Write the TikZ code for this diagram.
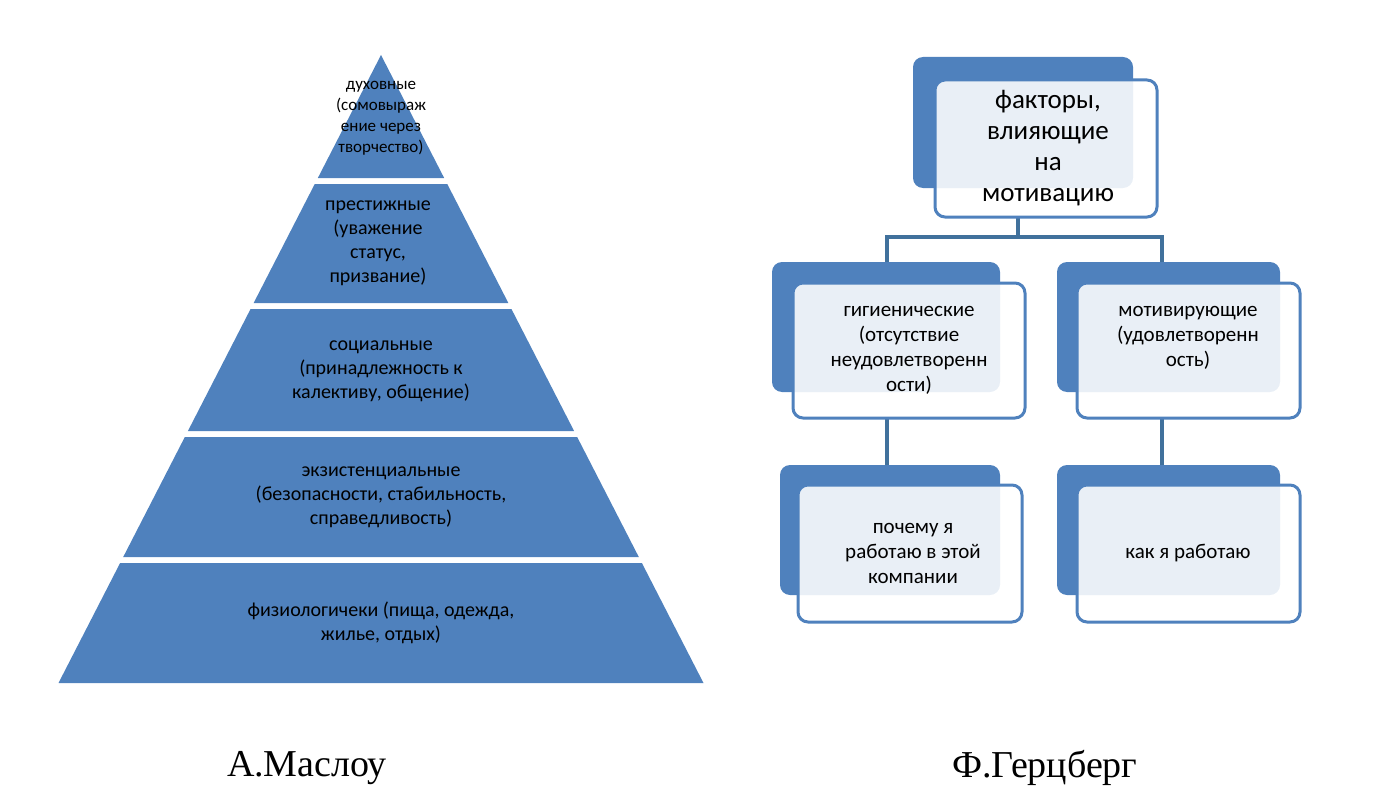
\documentclass[tikz,border=0pt]{standalone}
\usepackage{fontspec}
\setmainfont{Carlito}
\newfontfamily\timesf{Liberation Serif}
\definecolor{pyr}{HTML}{4F81BD}
\definecolor{edge}{HTML}{41719C}
\tikzset{back/.style={fill=pyr,rounded corners=10pt},
front/.style={draw=pyr,line width=3pt,fill=white,fill opacity=0.88,rounded corners=10pt},
conn/.style={draw=edge,line width=4pt},
ptext/.style={align=center,font=\fontsize{20}{24}\selectfont,text=black},
btext/.style={align=center,font=\fontsize{21}{25}\selectfont,text=black}}
\begin{document}
\begin{tikzpicture}[x=1pt,y=-1pt]
\useasboundingbox (0,0) rectangle (1375,797);
% pyramid
\newcommand\hw[1]{(#1-55)/628*322.5}
\foreach \a/\b in {55/178,184/303,309/431,437/557,563/683}{
  \fill[pyr] ({381-\hw{\a}},\a) -- ({381+\hw{\a}},\a) -- ({381+\hw{\b}},\b) -- ({381-\hw{\b}},\b) -- cycle;
}
\node[ptext,font=\fontsize{17}{21}\selectfont] (p1) at (381,118) {духовные\\(сомовыраж\\ение через\\творчество)};
\node[ptext] (p2) at (378,243) {престижные\\(уважение\\статус,\\призвание)};
\node[ptext] (p3) at (381,371) {социальные\\(принадлежность к\\калективу, общение)};
\node[ptext] (p4) at (381,497) {экзистенциальные\\(безопасности, стабильность,\\справедливость)};
\node[ptext] (p5) at (381,623) {физиологичеки (пища, одежда,\\жилье, отдых)};
\node[font=\timesf\fontsize{38}{40}\selectfont] (l1) at (307,768) {А.Маслоу};
\node[font=\timesf\fontsize{38}{40}\selectfont] (l2) at (1045,768) {Ф.Герцберг};
% connectors
\coordinate (tb) at (1018,217);
\coordinate (j) at (1018,237);
\draw[conn] (tb) -- (j);
\draw[conn] (887,262) -- (887,237) -- (1162,237) -- (1162,262);
\draw[conn] (887,418) -- (887,465);
\draw[conn] (1162,418) -- (1162,465);
% boxes
\fill[back] (913,57) rectangle (1133,188);
\path[front] (935,80) rectangle (1157,217);
\node[btext,font=\fontsize{27}{31}\selectfont] (t) at (1048,148) {факторы,\\влияющие\\на\\мотивацию};
\fill[back] (772,262) rectangle (1000,392);
\path[front] (793,283) rectangle (1025,418);
\node[btext] (g) at (909,350) {гигиенические\\(отсутствие\\неудовлетворенн\\ости)};
\fill[back] (1057,262) rectangle (1280,392);
\path[front] (1077,283) rectangle (1300,418);
\node[btext] (m) at (1188,338) {мотивирующие\\(удовлетворенн\\ость)};
\fill[back] (780,465) rectangle (1000,595);
\path[front] (798,485) rectangle (1022,622);
\node[btext] (w) at (913,553) {почему я\\работаю в этой\\компании};
\fill[back] (1057,465) rectangle (1280,595);
\path[front] (1077,485) rectangle (1300,622);
\node[btext] (h) at (1188,553) {как я работаю};
\end{tikzpicture}
\end{document}
